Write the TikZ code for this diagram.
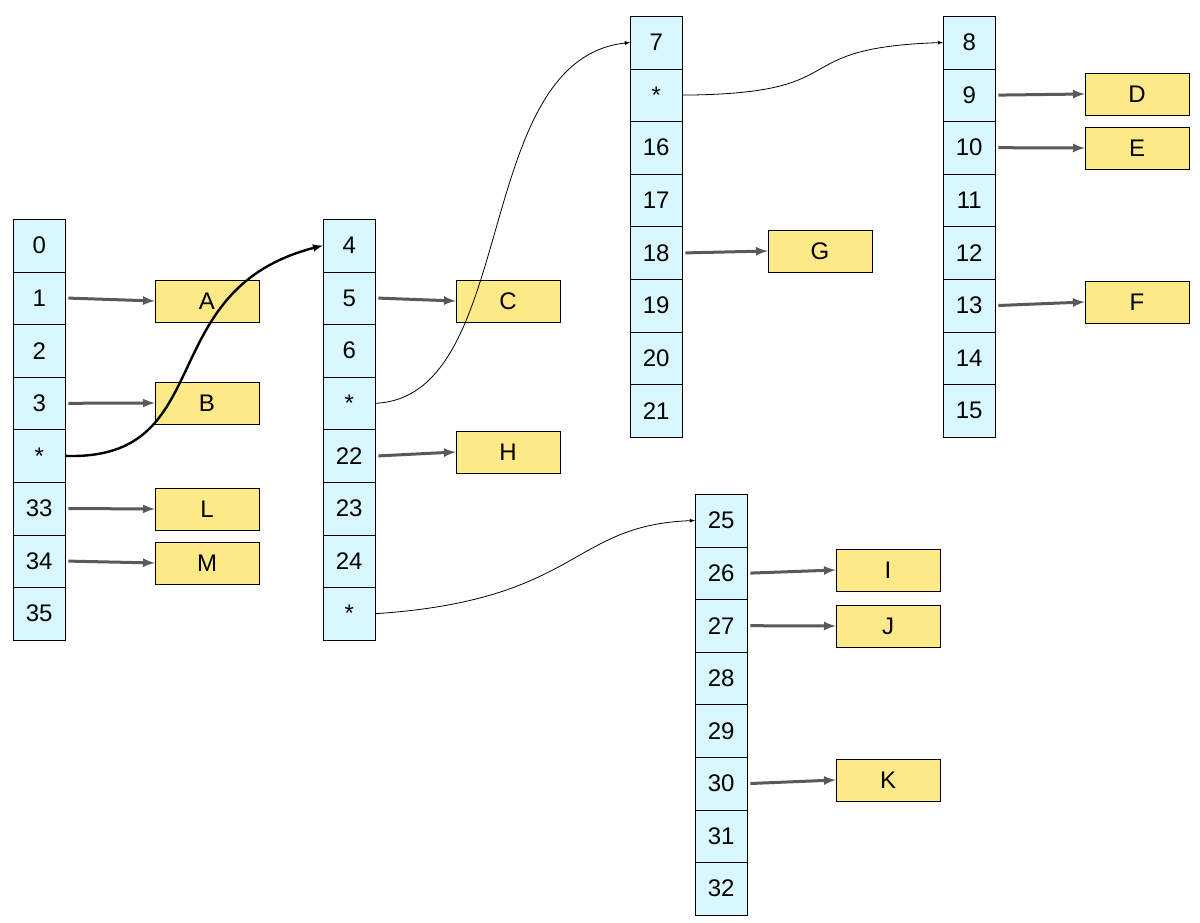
\documentclass[tikz,border=0pt]{standalone}
\usepackage{fontspec}
\setmainfont{Liberation Sans}
\begin{document}
\begin{tikzpicture}
		[
		x=1pt, y=-1pt, font=\fontsize{24}{26}\selectfont, >=latex,
		cell/.style={draw=black, fill=blue!20!cyan!15!white, minimum width=52pt, minimum height=52.6pt, inner sep=0pt, anchor=north west},
		leaf/.style={draw=black, fill=yellow!70!orange!45!white, minimum width=104pt, minimum height=42pt, inner sep=0pt},
		ptr/.style={-latex, line width=3pt, gray!70!black},
		jump/.style={-latex, thick, black}
		]
		
		\useasboundingbox (0,0) rectangle (1200,923);
		
		%Tabellen
		\foreach \lbl [count=\i from 0] in {0,1,2,3,*,33,34,35}
			\node[cell] (a\i) at (13,219+52.6*\i) {\lbl};
		\foreach \lbl [count=\i from 0] in {4,5,6,*,22,23,24,*}
			\node[cell] (b\i) at (323,219+52.6*\i) {\lbl};
		\foreach \lbl [count=\i from 0] in {7,*,16,17,18,19,20,21}
			\node[cell] (c\i) at (630,16+52.6*\i) {\lbl};
		\foreach \lbl [count=\i from 0] in {8,9,10,11,12,13,14,15}
			\node[cell] (d\i) at (943,16+52.6*\i) {\lbl};
		\foreach \lbl [count=\i from 0] in {25,26,27,28,29,30,31,32}
			\node[cell] (e\i) at (695,494+52.6*\i) {\lbl};
		
		%Blätter
		\node[leaf] (A) at (207,301) {A};
		\node[leaf] (B) at (207,403) {B};
		\node[leaf] (L) at (207,509) {L};
		\node[leaf] (M) at (207,563) {M};
		\node[leaf] (C) at (508,301) {C};
		\node[leaf] (H) at (508,452) {H};
		\node[leaf] (G) at (820,251) {G};
		\node[leaf] (D) at (1137,94) {D};
		\node[leaf] (E) at (1137,148) {E};
		\node[leaf] (F) at (1137,302) {F};
		\node[leaf] (I) at (888,570) {I};
		\node[leaf] (J) at (888,626) {J};
		\node[leaf] (K) at (888,780) {K};
		
		%Zeiger auf Blätter
		\foreach \c/\l in {a1/A, a3/B, a5/L, a6/M, b1/C, b4/H, c4/G, d1/D, d2/E, d5/F, e1/I, e2/J, e5/K}
			\draw[ptr] ([xshift=3pt]\c.east) -- (\l.west);
		
		%Sprünge
		\draw[jump, line width=2.4pt] (a4.east) .. controls (220,461) and (150,290) .. (b0.west);
		\draw[jump] (b3.east) .. controls (520,397) and (470,60) .. (c0.west);
		\draw[jump] (c1.east) .. controls (860,94) and (780,48) .. (d0.west);
		\draw[jump] (b7.east) .. controls (580,600) and (570,525) .. (e0.west);
	\end{tikzpicture}
\end{document}
